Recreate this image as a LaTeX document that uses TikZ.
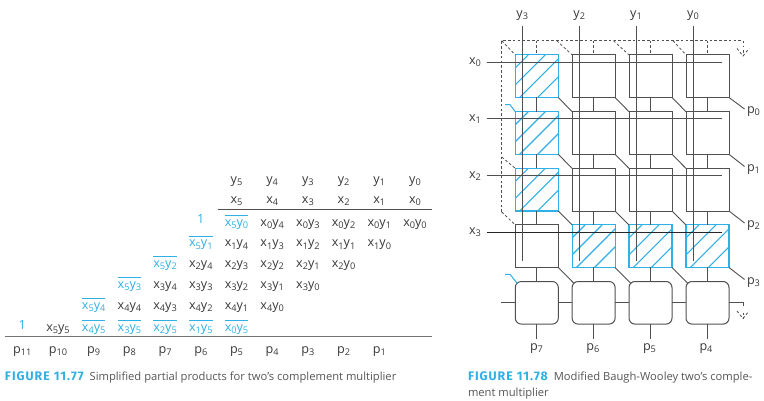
\documentclass[tikz,border=0pt]{standalone}
\usepackage{fontspec}
\setmainfont{Open Sans}
\newfontfamily\capfont[LetterSpace=8]{Fira Sans}
\definecolor{txt}{HTML}{3A3A3A}
\definecolor{cy}{HTML}{2FB0E6}
\definecolor{ln}{HTML}{505050}
\newcommand\low[1]{\raisebox{-0.3ex}{\fontsize{9.2}{10}\selectfont #1}}
\newcommand\xy[2]{x\low{#1}y\low{#2}}
\newcommand\bxy[2]{$\overline{\mbox{\rule{0pt}{9.6pt}\xy{#1}{#2}}}$}
\newcommand\caphead[1]{{\capfont\bfseries\fontsize{12.4}{13}\selectfont\color{cy}#1}}
\tikzset{
  lab/.style={font=\fontsize{12.6}{13}\selectfont,text=txt,inner sep=0pt,outer sep=0pt},
  prod/.style={lab,anchor=base},
  cprod/.style={lab,anchor=base,text=cy},
  cellbox/.style={draw=ln,line width=0.9pt,minimum width=43pt,minimum height=42.6pt,inner sep=0pt,outer sep=0pt},
  hcell/.style={cellbox,draw=cy,line width=1.1pt},
  rcell/.style={cellbox,rounded corners=6pt,line width=1pt},
  wire/.style={draw=ln,line width=0.9pt},
  hatchline/.style={draw=cy,line width=1.1pt},
  dashline/.style={draw=ln,line width=0.8pt,dash pattern=on 2.6pt off 2.2pt},
  captext/.style={inner sep=0pt,outer sep=0pt,anchor=west,text=txt!85,font=\fontsize{11.2}{12}\selectfont},
}
\begin{document}
\begin{tikzpicture}[x=1pt,y=-1pt]
\useasboundingbox[fill=white] (0,0) rectangle (764,401);
% ---- left table
\foreach \c/\i [count=\n] in {5/5,4/4,3/3,2/2,1/1,0/0} {
  \node[prod,name=ya\n] at ({415-35.7*\c},183.5) {y\low{\i}};
  \node[prod,name=xa\n] at ({415-35.7*\c},203.5) {x\low{\i}};
}
\node[cprod,name=one1] at ({415-35.7*6},223.5) {1};
\node[cprod,name=bar1] at ({415-35.7*5},226) {\bxy{5}{0}};
\foreach \c/\i/\j [count=\n] in {4/0/4,3/0/3,2/0/2,1/0/1,0/0/0}
  \node[prod,name=ra\n] at ({415-35.7*\c},226) {\xy{\i}{\j}};
\node[cprod,name=bar2] at ({415-35.7*6},247) {\bxy{5}{1}};
\foreach \c/\i/\j [count=\n] in {5/1/4,4/1/3,3/1/2,2/1/1,1/1/0}
  \node[prod,name=rb\n] at ({415-35.7*\c},247) {\xy{\i}{\j}};
\node[cprod,name=bar3] at ({415-35.7*7},267.5) {\bxy{5}{2}};
\foreach \c/\i/\j [count=\n] in {6/2/4,5/2/3,4/2/2,3/2/1,2/2/0}
  \node[prod,name=rc\n] at ({415-35.7*\c},267.5) {\xy{\i}{\j}};
\node[cprod,name=bar4] at ({415-35.7*8},288) {\bxy{5}{3}};
\foreach \c/\i/\j [count=\n] in {7/3/4,6/3/3,5/3/2,4/3/1,3/3/0}
  \node[prod,name=rd\n] at ({415-35.7*\c},288) {\xy{\i}{\j}};
\node[cprod,name=bar5] at ({415-35.7*9},309) {\bxy{5}{4}};
\foreach \c/\i/\j [count=\n] in {8/4/4,7/4/3,6/4/2,5/4/1,4/4/0}
  \node[prod,name=re\n] at ({415-35.7*\c},309) {\xy{\i}{\j}};
\node[cprod,name=one2] at ({415-35.7*11},329.5) {1};
\node[prod,name=xy55] at ({415-35.7*10},331) {\xy{5}{5}};
\foreach \c/\i [count=\n] in {9/4,8/3,7/2,6/1,5/0}
  \node[cprod,name=rf\n] at ({415-35.7*\c},331) {\bxy{\i}{5}};
\foreach \c/\i [count=\n] in {11/11,10/10,9/9,8/8,7/7,6/6,5/5,4/4,3/3,2/2,1/1}
  \node[prod,name=pa\n] at ({415-35.7*\c},353) {p\low{\i}};
\coordinate (r1a) at (217.5,209.3);
\coordinate (r1b) at (431.5,209.3);
\coordinate (r2a) at (4.7,336.8);
\coordinate (r2b) at (431.5,336.8);
\draw[draw=ln,line width=0.8pt] (r1a) -- (r1b);
\draw[draw=ln!80,line width=1.3pt] (r2a) -- (r2b);
\node[captext,name=capa] at (5,377) {\caphead{FIGURE 11.77}\hspace{6pt}Simplified partial products for two’s complement multiplier};
% ---- array cells
\foreach \r/\yy in {0/76.2,1/133,2/189.7,3/246.2} {
  \foreach \c/\xx in {0/536.8,1/593.6,2/650.5,3/707.5} {
    \node[cellbox,name=c\r\c] at (\xx,\yy) {};
  }
}
\foreach \c/\xx in {0/536.8,1/593.6,2/650.5,3/707.5} {
  \node[rcell,name=c4\c] at (\xx,302.8) {};
}
\foreach \nm in {c00,c10,c20,c31,c32,c33} {
  \node[hcell] at (\nm) {};
  \begin{scope}
    \clip (\nm.south west) rectangle (\nm.north east);
    \foreach \o in {13,30,47,65}
      \draw[hatchline] ([yshift=-\o pt]\nm.north west) -- ([xshift=\o pt]\nm.north west);
  \end{scope}
}
% vertical and diagonal links
\foreach \r/\s in {0/1,1/2,2/3,3/4} {
  \foreach \c in {0,1,2,3}
    \draw[wire] (c\r\c.south) -- (c\s\c.north);
}
\foreach \r/\s in {0/1,1/2,2/3} {
  \foreach \c/\d in {0/1,1/2,2/3}
    \draw[wire] (c\r\c.south east) -- (c\s\d.north west);
}
\foreach \c/\d in {0/1,1/2,2/3}
  \draw[wire] (c3\c.south east) -- ([shift={(2pt,-2pt)}]c4\d.north west);
% horizontal links of last row
\coordinate (lin) at (501,302.8);
\coordinate (rout) at (743,302.8);
\coordinate (grb) at (743,306);
\draw[wire] (lin) -- (c40.west);
\foreach \c/\d in {0/1,1/2,2/3}
  \draw[wire] (c4\c.east) -- (c4\d.west);
\draw[wire] (c43.east) -- (rout) -- (grb);
% p outputs
\foreach \r/\k/\yy in {0/0/112,1/1/169.5,2/2/226,3/3/282.5} {
  \node[lab,name=po\k] at (753.5,\yy) {p\low{\k}};
  \draw[wire] (c\r3.south east) -- ([xshift=-2.5pt,yshift=3pt]po\k.west);
}
\foreach \c/\k/\xx in {0/7/536.5,1/6/592.8,2/5/649.5,3/4/706} {
  \node[lab,name=pb\k] at (\xx,348.5) {p\low{\k}};
  \draw[wire] (c4\c.south) -- ++(0,15);
}
% x and y lines
\foreach \r/\yy/\k in {0/62/0,1/118.7/1,2/175.7/2} {
  \node[lab,name=xl\k] at (475,\yy) {x\low{\k}};
  \coordinate (xs\k) at (486.7,\yy);
  \coordinate (xe\k) at (721.7,\yy);
  \draw[wire] (xs\k) -- (xe\k);
}
\node[lab,name=xl3] at (475,232.3) {x\low{3}};
\coordinate (xs3) at (486.7,232.3);
\coordinate (xe3) at (721.7,232.3);
\draw[draw=black!85,line width=0.9pt] (xs3) -- (xe3);
\foreach \k/\xx in {3/522.3,2/579.3,1/636,0/693} {
  \node[lab,name=yl\k] at (\xx,15.5) {y\low{\k}};
  \coordinate (yt\k) at (\xx,26);
  \coordinate (yb\k) at (\xx,261);
  \draw[wire] (yt\k) -- (yb\k);
}
% dashed carry lines
\coordinate (d0) at (501.7,40.7);
\coordinate (d1) at (743,40.7);
\coordinate (d2) at (743,46);
\coordinate (d3) at (501.7,212);
\coordinate (d4) at (501.7,157);
\coordinate (d5) at (556.7,40.7);
\coordinate (d6) at (613.5,40.7);
\coordinate (d7) at (673,40.7);
\draw[dashline] (d3) -- (d0) -- (d1) -- (d2);
\draw[dashline] (d0) -- (c00.north west);
\draw[dashline] (d4) -- (c20.north west);
\draw[dashline] (d3) -- (c30.north west);
\draw[dashline] (d5) -- (c01.north west);
\draw[dashline] (d6) -- (c02.north west);
\draw[dashline] (d7) -- (c03.north west);
\foreach \c/\xx in {0/536.8,1/593.6,2/650.5,3/707.5}
  \draw[dashline] (\xx,40.7) -- (c0\c.north);
% ground symbols
\coordinate (ga) at (737,48.5);
\coordinate (gb) at (749,48.5);
\coordinate (gc) at (743,56);
\coordinate (gg) at (743,50);
\draw[dashline] (ga) -- (gc) -- (gb);
\draw[dashline] (gg) -- (gc);
\coordinate (gd) at (737,311);
\coordinate (ge) at (749,311);
\coordinate (gf) at (743,318.5);
\coordinate (gh) at (743,312.5);
\draw[dashline] (gd) -- (gf) -- (ge);
\draw[dashline] (gh) -- (gf);
% cyan flags
\coordinate (f1a) at (505,104.7);
\coordinate (f1b) at (510,104.7);
\coordinate (f2a) at (505,274.3);
\coordinate (f2b) at (510,274.3);
\draw[draw=cy,line width=1pt] (f1a) -- (f1b) -- (c10.north west);
\draw[draw=cy,line width=1pt] (f2a) -- (f2b) -- ([shift={(2pt,-2pt)}]c40.north west);
% caption
\node[captext,name=capb] at (468,377.7) {\caphead{FIGURE 11.78}\hspace{6pt}Modified Baugh-Wooley two’s comple-};
\node[captext,name=capc] at (468,393.3) {ment multiplier};
\end{tikzpicture}
\end{document}
